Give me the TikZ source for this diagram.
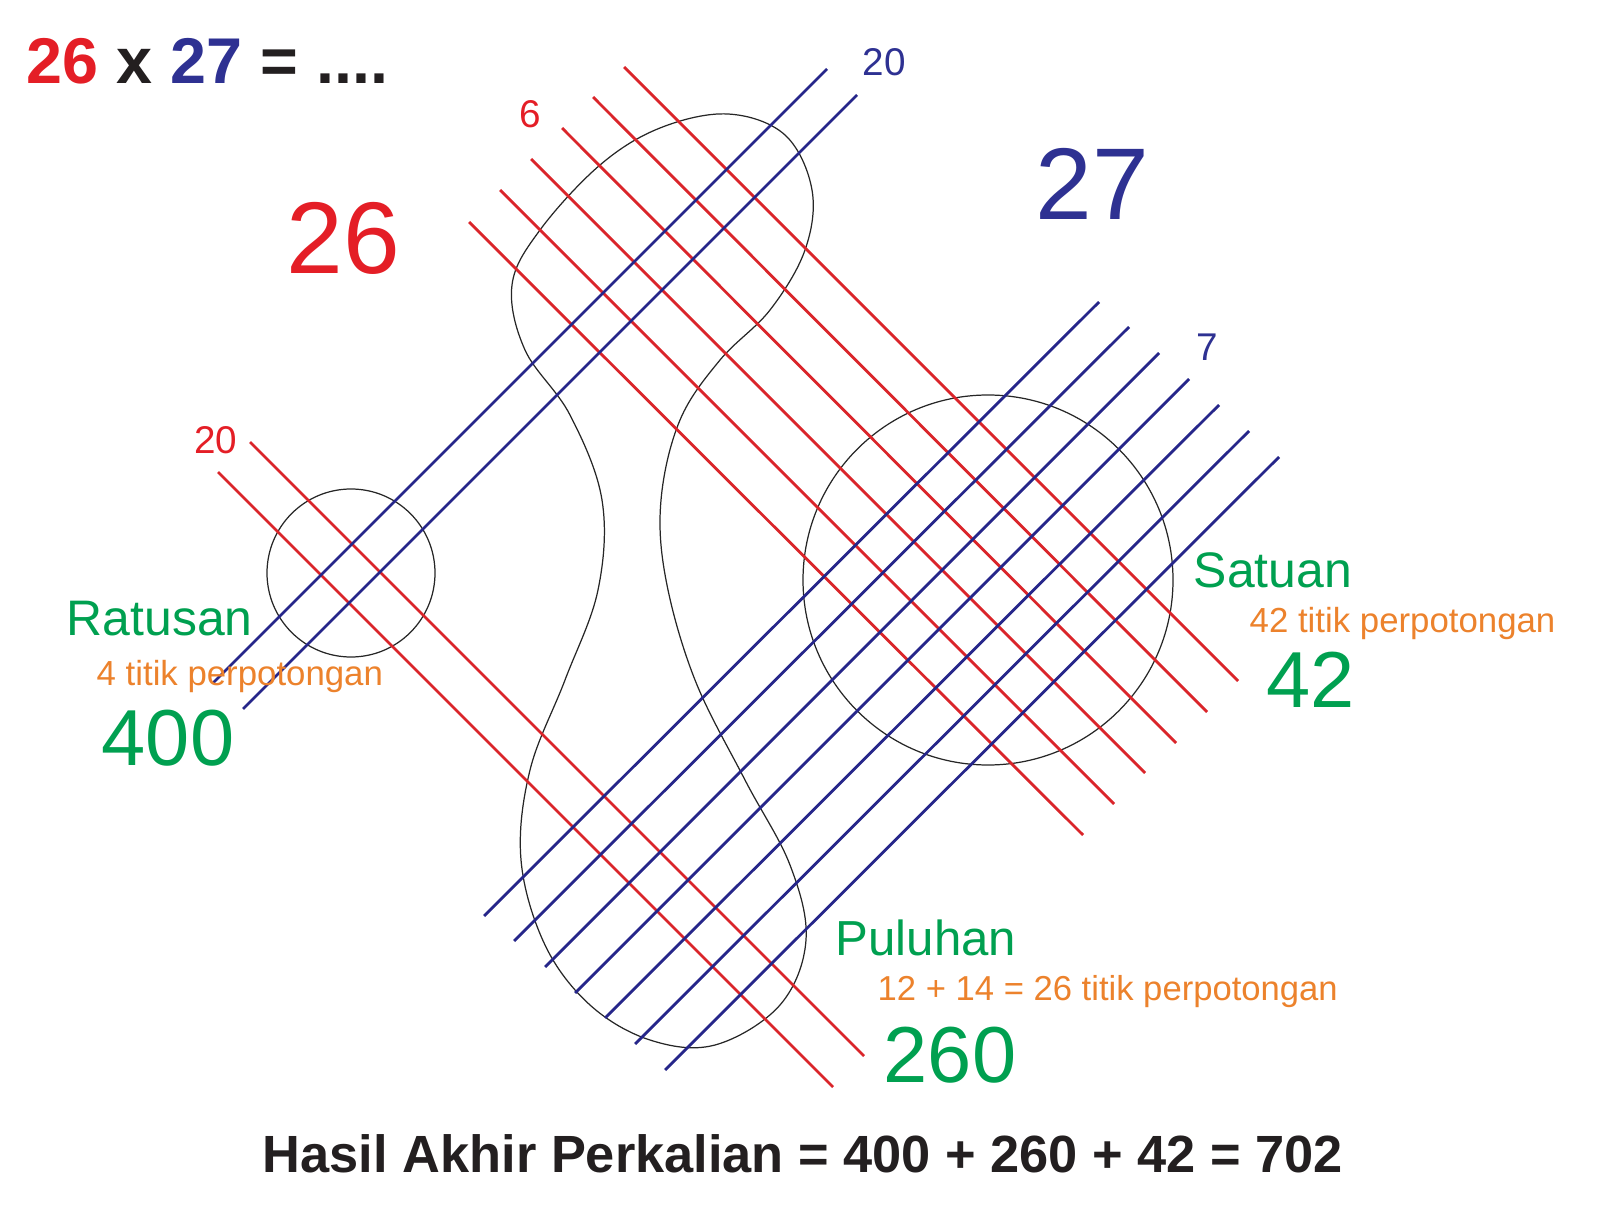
\documentclass[tikz,border=0pt]{standalone}
\usepackage{fontspec}
\setmainfont{Liberation Sans}
\definecolor{numred}{RGB}{228,30,38}
\definecolor{linered}{RGB}{218,37,42}
\definecolor{numblue}{RGB}{46,49,146}
\definecolor{lineblue}{RGB}{38,38,138}
\definecolor{placegreen}{RGB}{0,160,80}
\definecolor{countorange}{RGB}{236,130,44}
\definecolor{inkdark}{RGB}{35,31,32}
\tikzset{
  redline/.style={draw=linered, line width=0.8pt},
  blueline/.style={draw=lineblue, line width=0.8pt},
  outline/.style={draw=black!85, line width=0.35pt},
  txt/.style={inner sep=0pt, anchor=base west},
  place/.style={txt, text=placegreen, font=\fontsize{14.2}{14}\selectfont},
  count/.style={txt, text=countorange, font=\fontsize{9.9}{10}\selectfont},
  value/.style={txt, text=placegreen, font=\fontsize{22.6}{22}\selectfont},
  small/.style={inner sep=0pt, font=\fontsize{11}{11}\selectfont},
  big/.style={txt, font=\fontsize{29}{29}\selectfont}
}
\begin{document}
\begin{tikzpicture}[x=1cm,y=-1cm]
  \useasboundingbox (0,0) rectangle (16,12.13);
  % end points of the lines
  \coordinate (ra1) at (2.50,4.42);  \coordinate (rb1) at (8.64,10.56);
  \coordinate (ra2) at (2.18,4.72);  \coordinate (rb2) at (8.33,10.87);
  \coordinate (rc1) at (4.69,2.22);  \coordinate (rd1) at (10.83,8.35);
  \coordinate (rc2) at (5.00,1.90);  \coordinate (rd2) at (11.14,8.04);
  \coordinate (rc3) at (5.31,1.59);  \coordinate (rd3) at (11.45,7.73);
  \coordinate (rc4) at (5.62,1.28);  \coordinate (rd4) at (11.76,7.43);
  \coordinate (rc5) at (5.93,0.97);  \coordinate (rd5) at (12.07,7.12);
  \coordinate (rc6) at (6.24,0.67);  \coordinate (rd6) at (12.38,6.81);
  \coordinate (ba1) at (2.13,6.83);  \coordinate (bb1) at (8.27,0.69);
  \coordinate (ba2) at (2.43,7.09);  \coordinate (bb2) at (8.57,0.95);
  \coordinate (bc1) at (4.84,9.16);  \coordinate (bd1) at (10.99,3.02);
  \coordinate (bc2) at (5.14,9.41);  \coordinate (bd2) at (11.29,3.27);
  \coordinate (bc3) at (5.45,9.67);  \coordinate (bd3) at (11.59,3.53);
  \coordinate (bc4) at (5.75,9.93);  \coordinate (bd4) at (11.89,3.79);
  \coordinate (bc5) at (6.05,10.18); \coordinate (bd5) at (12.19,4.05);
  \coordinate (bc6) at (6.35,10.44); \coordinate (bd6) at (12.49,4.31);
  \coordinate (bc7) at (6.65,10.70); \coordinate (bd7) at (12.79,4.57);
  % rings round the crossings
  \draw[outline] (3.51,5.73) circle (0.84);
  \draw[outline] (9.88,5.80) circle (1.85);
  \draw[outline] plot[smooth cycle, tension=0.6] coordinates {
    (7.28,1.14) (7.85,1.35) (8.12,1.90) (8.05,2.50) (7.70,3.10) (7.20,3.60)
    (6.80,4.20) (6.61,5.00) (6.66,5.80) (6.95,6.80) (7.45,7.80) (7.90,8.65)
    (8.06,9.40) (7.80,10.05) (7.15,10.45) (6.50,10.40) (5.90,10.05) (5.45,9.45)
    (5.21,8.60) (5.30,7.70) (5.65,6.80) (5.98,5.90) (6.02,5.00) (5.70,4.15)
    (5.25,3.50) (5.12,2.85) (5.40,2.30) (6.00,1.65) (6.60,1.28)};
  \begin{scope}[redline]
    \draw (ra1) -- (rb1);
    \draw (ra2) -- (rb2);
    \draw (rc1) -- (rd1);
    \draw (rc2) -- (rd2);
    \draw (rc3) -- (rd3);
    \draw (rc4) -- (rd4);
    \draw (rc5) -- (rd5);
    \draw (rc6) -- (rd6);
  \end{scope}
  \begin{scope}[blueline]
    \draw (ba1) -- (bb1);
    \draw (ba2) -- (bb2);
    \draw (bc1) -- (bd1);
    \draw (bc2) -- (bd2);
    \draw (bc3) -- (bd3);
    \draw (bc4) -- (bd4);
    \draw (bc5) -- (bd5);
    \draw (bc6) -- (bd6);
    \draw (bc7) -- (bd7);
  \end{scope}
  % texts
  \node[txt, text=inkdark, font=\bfseries\fontsize{18.4}{18.4}\selectfont] (question) at (0.26,0.84)
    {{\color{numred}26} x {\color{numblue}27} = ....};
  \node[big, text=numred] (bigred) at (2.86,2.74) {26};
  \node[big, text=numblue] (bigblue) at (10.35,2.20) {27};
  \node[small, text=numred] (tensred) at (2.16,4.40) {20};
  \node[small, text=numred] (unitsred) at (5.30,1.14) {6};
  \node[small, text=numblue] (tensblue) at (8.84,0.62) {20};
  \node[small, text=numblue] (unitsblue) at (12.07,3.47) {7};
  \node[place] (ratusan) at (0.66,6.35) {Ratusan};
  \node[count] (ratusancount) at (0.96,6.85) {4 titik perpotongan};
  \node[value] (ratusanval) at (1.01,7.65) {400};
  \node[place] (satuan) at (11.93,5.87) {Satuan};
  \node[count] (satuancount) at (12.49,6.32) {42 titik perpotongan};
  \node[value] (satuanval) at (12.66,7.07) {42};
  \node[place, font=\fontsize{14}{14}\selectfont] (puluhan) at (8.35,9.55) {Puluhan};
  \node[count, font=\fontsize{9.85}{10}\selectfont] (puluhancount) at (8.77,10.00) {12 + 14 = 26 titik perpotongan};
  \node[value] (puluhanval) at (8.83,10.82) {260};
  \node[inner sep=0pt, anchor=base, text=inkdark, font=\bfseries\fontsize{14.9}{15}\selectfont] (result) at (8.03,11.72)
    {Hasil Akhir Perkalian = 400 + 260 + 42 = 702};
\end{tikzpicture}
\end{document}
